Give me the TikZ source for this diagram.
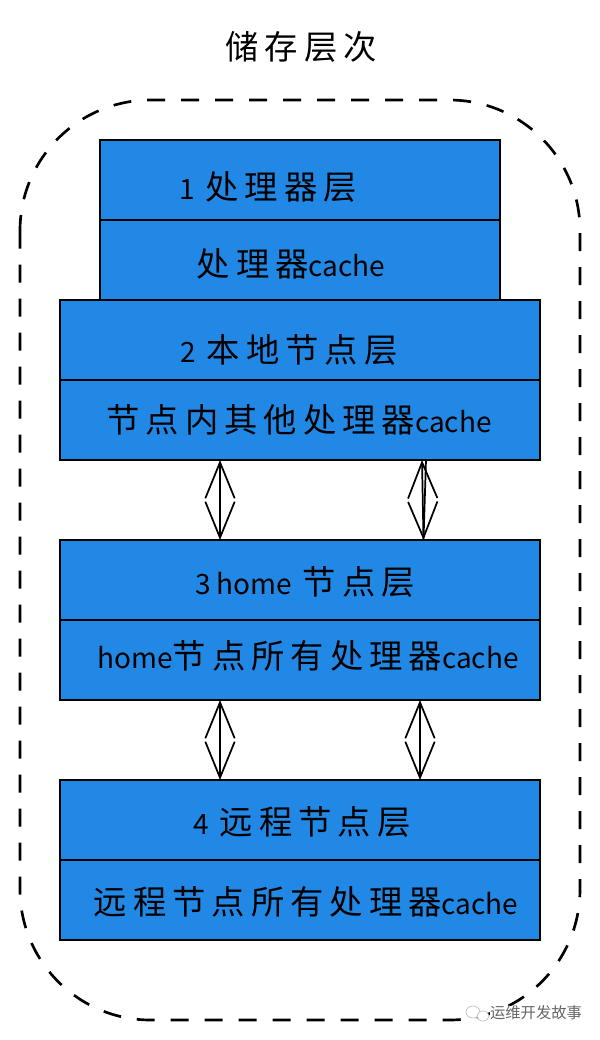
\documentclass[tikz,border=0pt]{standalone}
\usepackage{fontspec}
\setmainfont{Noto Sans CJK SC}
\newfontfamily\spacedfont[LetterSpace=18]{Noto Sans CJK SC}
\newcommand{\latinw}[1]{{\normalfont\fontsize{21}{26}\selectfont #1}}
\usetikzlibrary{positioning}
\usetikzlibrary{arrows.meta}
\definecolor{boxblue}{HTML}{2288E6}
\tikzset{
	lvlbox/.style={draw=black,line width=1.5pt,fill=boxblue,inner sep=0pt,outer sep=0pt,minimum width=360pt,minimum height=60pt},
	boxtext/.style={font=\spacedfont\fontsize{25}{28}\selectfont,inner sep=0pt},
	linkarrow/.style={draw=black,line width=1.3pt,{Straight Barb[length=27pt,width=22pt,line width=1.3pt]}-{Straight Barb[length=27pt,width=22pt,line width=1.3pt]}},
}
\begin{document}
\begin{tikzpicture}[x=.75pt,y=-.75pt]
		\useasboundingbox (0,0) rectangle (600,1040);
		% outer frame
		\draw[line width=2pt,dash pattern=on 13.5pt off 12pt,rounded corners=98pt] (20,100) rectangle (580,1020);
		\node[boxtext] (title) at (301,47) {储存层次};
		% boxes
		\node[lvlbox,minimum width=300pt,anchor=north west] (lvla) at (100,140) {};
		\node[lvlbox,minimum width=300pt,below=0pt of lvla] (cachea) {};
		\node[lvlbox,anchor=north west] (lvlb) at (60,300) {};
		\node[lvlbox,below=0pt of lvlb] (cacheb) {};
		\node[lvlbox,anchor=north west] (lvlc) at (60,540) {};
		\node[lvlbox,below=0pt of lvlc] (cachec) {};
		\node[lvlbox,anchor=north west] (lvld) at (60,780) {};
		\node[lvlbox,below=0pt of lvld] (cached) {};
		% texts
		\node[boxtext] (ta) at (268,187) {\latinw{1}\hspace{8pt}处理器层};
		\node[boxtext] (tca) at (291,264) {处理器\latinw{cache}};
		\node[boxtext] (tb) at (289,350) {\latinw{2}\hspace{8pt}本地节点层};
		\node[boxtext] (tcb) at (299,420) {节点内其他处理器\latinw{cache}};
		\node[boxtext] (tc) at (305,582) {\latinw{3 home}\hspace{8pt}节点层};
		\node[boxtext] (tcc) at (308,656) {\latinw{home}节点所有处理器\latinw{cache}};
		\node[boxtext] (td) at (302,822) {\latinw{4}\hspace{8pt}远程节点层};
		\node[boxtext] (tcd) at (306,902) {远程节点所有处理器\latinw{cache}};
		% arrows
		\coordinate (ua) at (220,460);
		\coordinate (da) at (220,540);
		\coordinate (ub) at (422,460);
		\coordinate (ubb) at (426,460);
		\coordinate (db) at (423.5,540);
		\coordinate (uc) at (220,700);
		\coordinate (dc) at (220,780);
		\coordinate (ud) at (420,700);
		\coordinate (dd) at (420,780);
		\draw[linkarrow] (ua) -- (da);
		\draw[linkarrow] (ub) -- (db);
		\draw[line width=1.3pt] (ubb) -- (db);
		\draw[linkarrow] (uc) -- (dc);
		\draw[linkarrow] (ud) -- (dd);
		% watermark
		\draw[black!25,fill=white,line width=.5pt] (473,1012) ellipse (7 and 6);
		\draw[black!25,fill=white,line width=.5pt] (483,1016) ellipse (6 and 5);
		\node[font=\fontsize{11.5}{14}\selectfont,text=black!60,fill=white,inner sep=0pt] (mark) at (536,1013) {运维开发故事};
	\end{tikzpicture}
\end{document}
